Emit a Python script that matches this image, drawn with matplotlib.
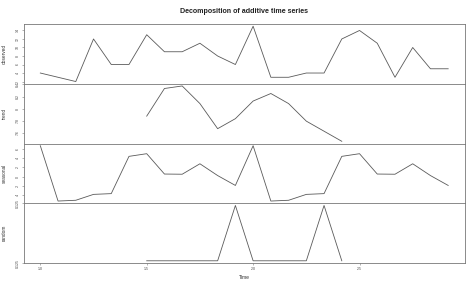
import numpy as np
import matplotlib.pyplot as plt

plt.rcParams['font.family'] = ['Liberation Sans', 'DejaVu Sans']

# monthly series (frequency 12), starting at time 1.0
freq = 12
observed = [4, 3, 2, 12, 6, 6, 13, 9, 9, 11, 8, 6,
            15, 3, 3, 4, 4, 12, 14, 11, 3, 10, 5, 5]
nan = np.nan
trend = [nan] * 6 + [7.875, 8.333, 8.375, 8.083, 7.667, 7.833,
                     8.125, 8.25, 8.083, 7.792, 7.625, 7.458] + [nan] * 6
seasonal = [6.75, -5.375, -5.208, -3.917, -3.75, 4.417,
            5.0, 0.542, 0.5, 2.792, 0.208, -1.958] * 2
# the remainder is constant (0.125) up to floating point noise
random = [nan] * 6 + [0.125, 0.125, 0.125, 0.125, 0.125, 0.12500000000000003,
                      0.125, 0.125, 0.125, 0.125, 0.12500000000000003, 0.125] + [nan] * 6

t = 1 + np.arange(len(observed)) / freq
rand = np.array(random)
rand_ulp = (rand - 0.125) / np.spacing(0.125)

line_col = '#5a5a5a'
box_col = '#777777'
W, H = 474, 292
fig = plt.figure(figsize=(W / 100, H / 100), dpi=100)

left, right = 24, 464.5
top, bottom = 24, 263
ph = (bottom - top) / 4

panels = [
    ('observed', np.array(observed, dtype=float), [2, 4, 6, 8, 10, 12, 14], None),
    ('trend', np.array(trend), [7.6, 7.8, 8.0, 8.2, 8.4], None),
    ('seasonal', np.array(seasonal), [-4, -2, 0, 2, 4, 6], None),
    ('random', rand_ulp, None, '0.125'),
]

xlo, xhi = t[0], t[-1]
xpad = 0.04 * (xhi - xlo)

axes = []
for i, (name, y, yt, lab) in enumerate(panels):
    y0 = top + i * ph
    ax = fig.add_axes([left / W, 1 - (y0 + ph) / H, (right - left) / W, ph / H])
    ax.plot(t, y, color=line_col, lw=0.6)
    lo, hi = np.nanmin(y), np.nanmax(y)
    pad = 0.04 * (hi - lo)
    ax.set_ylim(lo - pad, hi + pad)
    ax.set_xlim(xlo - xpad, xhi + xpad)
    if yt is None:
        yt = [lo - pad, hi + pad]
        ax.set_yticks(yt)
        ax.set_yticklabels([lab, lab])
    else:
        ax.set_yticks(yt)
        ax.set_yticklabels([f'{v:g}' for v in yt])
    for lbl in ax.get_yticklabels():
        lbl.set_rotation(90)
        lbl.set_va('center')
    ax.tick_params(axis='y', length=1.6, width=0.4, pad=1.2, labelsize=2.5,
                   colors=box_col, labelcolor='#444444')
    ax.set_ylabel(name, fontsize=3.4, color='#333333', labelpad=2.5)
    ax.yaxis.set_label_coords(-17 / (right - left), 0.5)
    for s in ax.spines.values():
        s.set_color(box_col)
        s.set_linewidth(0.6)
    if i < 3:
        ax.tick_params(axis='x', bottom=False, labelbottom=False)
    else:
        ax.set_xticks([1.0, 1.5, 2.0, 2.5])
        ax.set_xticklabels(['1.0', '1.5', '2.0', '2.5'])
        ax.tick_params(axis='x', length=1.6, width=0.4, pad=1.5, labelsize=2.5,
                       colors=box_col, labelcolor='#444444')
        ax.set_xlabel('Time', fontsize=3.6, color='#333333', labelpad=3)
    axes.append(ax)

fig.text((left + right) / 2 / W, 1 - 11.5 / H, 'Decomposition of additive time series',
         ha='center', va='center', fontsize=5.1, fontweight='bold', color='#222222')

fig.savefig('out.png', dpi=100, facecolor='white')
